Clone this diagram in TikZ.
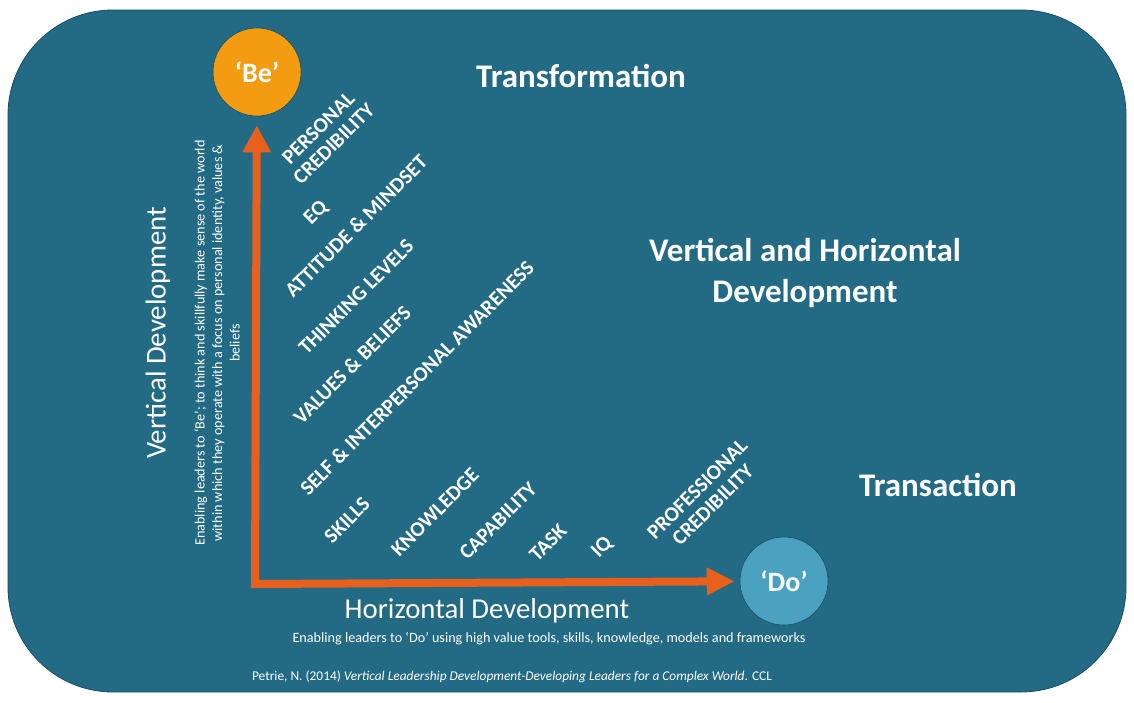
\documentclass[tikz,border=0pt]{standalone}
\usepackage{fontspec}
\setmainfont{Carlito}
\usetikzlibrary{arrows.meta,positioning}
\definecolor{ldTeal}{HTML}{236A84}
\definecolor{ldEdge}{HTML}{1A4F63}
\definecolor{ldGold}{HTML}{F39C12}
\definecolor{ldSky}{HTML}{4BA2C0}
\definecolor{ldArrow}{HTML}{E8601C}
\begin{document}
\begin{tikzpicture}[x=1pt,y=-1pt,>=Latex,line cap=round,line join=round]
\path[fill=white] (0,0) rectangle (1134,702);
\path[fill=ldTeal,draw=ldEdge,line width=0.8pt,rounded corners=105pt] (8,10) rectangle (1126,692);
\tikzset{pole/.style={circle,draw=ldEdge,line width=0.6pt,minimum size=88pt,inner sep=0pt,text=white,font=\fontsize{28}{30}\selectfont\bfseries},tag/.style={rotate=45,text=white,align=center,inner sep=0pt,font=\fontsize{21}{22}\selectfont\bfseries},head/.style={text=white,align=center,font=\fontsize{33}{41}\selectfont\bfseries},axis/.style={text=white,font=\fontsize{28.8}{32}\selectfont},note/.style={text=white,align=center,font=\fontsize{14.2}{17.5}\selectfont},bar/.style={draw=ldArrow,line width=8pt,line cap=butt,line join=miter,{Triangle[length=27pt,width=27pt]}-{Triangle[length=28pt,width=26pt]}}}
% poles of the two axes
\node[pole,fill=ldGold] (be) at (257,72) {‘Be’};
\node[pole,fill=ldSky] (do) at (784,581) {‘Do’};
\coordinate (origin) at (255,584);
\draw[bar,shorten <=9pt,shorten >=5pt] (be) -- (origin) -- (do);
% headings
\node[head] (transform) at (581,76) {Transformation};
\node[head] (both) at (805,273) {Vertical and Horizontal\\Development};
\node[head] (transact) at (938,485) {Transaction};
% axis titles and notes
\node[axis,rotate=90] (vdev) at (158,333) {Vertical Development};
\node[note,rotate=90] (vnote) at (217,343) {Enabling leaders to ‘Be’; to think and skillfully make sense of the world\\within which they operate with a focus on personal identity, values \&\\beliefs};
\node[axis] (hdev) at (487,611) {Horizontal Development};
\node[note] (hnote) at (549,639) {Enabling leaders to ‘Do’ using high value tools, skills, knowledge, models and frameworks};
\node[note,font=\fontsize{13.4}{15}\selectfont] (source) at (512,677) {Petrie, N. (2014) \textit{Vertical Leadership Development-Developing Leaders for a Complex World}. CCL};
% vertical qualities
\node[tag] (pcred) at (326,136) {PERSONAL\\CREDIBILITY};
\node[tag] (eq) at (316,213) {EQ};
\node[tag] (attitude) at (356,226) {ATTITUDE \& MINDSET};
\node[tag] (thinking) at (356,297) {THINKING LEVELS};
\node[tag] (values) at (352,365) {VALUES \& BELIEFS};
\node[tag] (self) at (417,378) {SELF \& INTERPERSONAL AWARENESS};
% horizontal qualities
\node[tag] (skills) at (347,520) {SKILLS};
\node[tag] (knowledge) at (435,512) {KNOWLEDGE};
\node[tag] (capability) at (498,521) {CAPABILITY};
\node[tag] (task) at (548,543) {TASK};
\node[tag] (iq) at (602,547) {IQ};
\node[tag] (procred) at (705,497) {PROFESSIONAL\\CREDIBILITY};
\end{tikzpicture}
\end{document}
